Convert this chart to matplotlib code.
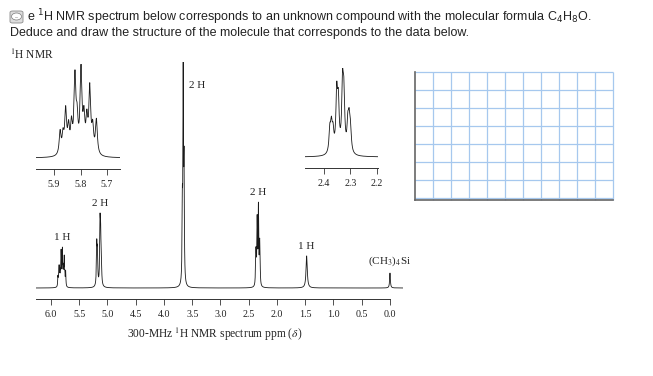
import numpy as np
import matplotlib
matplotlib.use("Agg")
import matplotlib.pyplot as plt
from matplotlib.patches import FancyBboxPatch, Ellipse

# Data
# -----------------------------------------------------------------------------
# each multiplet: line positions (ppm) and relative line intensities
vinyl_ch_ppm = [5.877, 5.866, 5.856, 5.845, 5.834, 5.821, 5.813, 5.798, 5.787, 5.776, 5.765, 5.754, 5.740]
vinyl_ch_int = [0.28, 0.22, 0.52, 0.30, 0.33, 0.90, 0.36, 1.00, 0.40, 0.38, 0.78, 0.30, 0.42]

vinyl_ch2_ppm = [5.190, 5.178, 5.132, 5.122, 5.110]
vinyl_ch2_int = [0.70, 0.55, 1.00, 0.75, 0.45]

och2_ppm = [3.675, 3.660, 3.645]
och2_int = [0.35, 1.00, 0.55]

allyl_ppm = [2.378, 2.372, 2.366, 2.352, 2.346, 2.330, 2.325, 2.310, 2.305, 2.300]
allyl_int = [0.36, 0.40, 0.30, 0.90, 0.72, 1.00, 0.80, 0.42, 0.45, 0.32]

oh_ppm = [1.475]
oh_int = [1.0]

tms_ppm = [0.0]
tms_int = [1.0]

multiplets = [
    (vinyl_ch_ppm, vinyl_ch_int),
    (vinyl_ch2_ppm, vinyl_ch2_int),
    (och2_ppm, och2_int),
    (allyl_ppm, allyl_int),
    (oh_ppm, oh_int),
    (tms_ppm, tms_int),
]
# peak heights in the full spectrum (tallest = 100)
peak_heights = [18.1, 33.2, 100.0, 38.0, 14.2, 6.6]
line_widths = [0.005, 0.007, 0.006, 0.005, 0.013, 0.008]
peak_labels = ["1 H", "2 H", "2 H", "2 H", "1 H", "(CH$_3$)$_4$Si"]

main_ticks = [6.0, 5.5, 5.0, 4.5, 4.0, 3.5, 3.0, 2.5, 2.0, 1.5, 1.0, 0.5, 0.0]
inset1_ticks = [5.9, 5.8, 5.7]
inset2_ticks = [2.4, 2.3, 2.2]

n_cols, n_rows = 11, 7

# Figure
# -----------------------------------------------------------------------------
plt.rcParams["font.family"] = ["Liberation Serif", "DejaVu Serif"]
plt.rcParams["mathtext.fontset"] = "stix"

W, H = 653, 376
fig = plt.figure(figsize=(W / 100, H / 100), dpi=100)
ink = "#1a1a1a"


def px_axes(x0, y0, x1, y1):
    """ Axes placed with pixel coordinates (top-left origin). """
    return fig.add_axes([x0 / W, 1 - y1 / H, (x1 - x0) / W, (y1 - y0) / H])


def lorentz(x, pos, inten, gamma):
    y = np.zeros_like(x)
    for p, a in zip(pos, inten):
        y += a * gamma**2 / ((x - p)**2 + gamma**2)
    return y


def style_axis(ax, ticks, bounds, size):
    for s in ["top", "left", "right"]:
        ax.spines[s].set_visible(False)
    ax.spines["bottom"].set_bounds(*bounds)
    ax.spines["bottom"].set_color("#333333")
    ax.spines["bottom"].set_linewidth(0.7)
    ax.set_yticks([])
    ax.set_xticks(ticks)
    ax.set_xticklabels(["{:.1f}".format(t) for t in ticks])
    ax.tick_params(axis="x", direction="out", length=4, width=0.6,
                   color="#333333", labelsize=size, pad=4, labelcolor="#222222")
    ax.patch.set_alpha(0)


# Main spectrum
x_lo, x_hi = -0.23, 6.265
x = np.linspace(x_lo, x_hi, 60000)
spectrum = np.zeros_like(x)
for (pos, inten), h, g in zip(multiplets, peak_heights, line_widths):
    part = lorentz(x, pos, inten, g)
    spectrum += h * part / part.max()

ax = px_axes(36, 62, 403, 299)
ax.plot(x, spectrum, color=ink, linewidth=0.6)
ax.set_xlim(x_hi, x_lo)
ax.set_ylim(-11 / 226 * 100, 100)
style_axis(ax, main_ticks, (0.0, x_hi), 7.2)
ax.set_xlabel("300-MHz $^1$H NMR spectrum ppm ($\\delta$)", fontsize=8.3, color="#222222")
ax.xaxis.set_label_coords((215 - 36) / 367, -35 / 237)
ax.xaxis.label.set_va("center")

for i, ((pos, inten), h, lab) in enumerate(zip(multiplets, peak_heights, peak_labels)):
    centre = pos[int(np.argmax(inten))]
    if i == 2:
        ax.annotate(lab, xy=(centre, h), xytext=(4, -17), textcoords="offset points",
                    ha="left", va="center", fontsize=8, color="#222222")
    else:
        ax.annotate(lab, xy=(centre, h), xytext=(0, 3.5), textcoords="offset points",
                    ha="center", va="bottom", fontsize=8, color="#222222")

# Insets
insets = [
    (multiplets[0], (36, 64, 120, 169), 158, (5.968, 5.651), inset1_ticks, 0.0042),
    (multiplets[3], (305, 68, 378, 168), 157, (2.472, 2.196), inset2_ticks, 0.0038),
]
for (pos, inten), (x0, y0, x1, y1), base, (left, right), ticks, g in insets:
    xi = np.linspace(right, left, 4000)
    yi = lorentz(xi, pos, inten, g)
    yi = yi / yi.max()
    axi = px_axes(x0, y0, x1, y1)
    axi.plot(xi, yi, color=ink, linewidth=0.6)
    axi.set_xlim(left, right)
    axi.set_ylim(-(y1 - base) / (base - y0), 1.0)
    style_axis(axi, ticks, (right, left), 7.2)

# Answer grid
axg = px_axes(414.7, 72.3, 613.3, 200)
axg.set_xlim(0, n_cols)
axg.set_ylim(-1.7 / 18, n_rows)
grid_blue = "#a6c8ee"
axg.vlines(np.arange(1, n_cols + 1), -1.7 / 18, n_rows, color=grid_blue, linewidth=0.9, clip_on=False)
axg.hlines(np.arange(0, n_rows + 1), 0, n_cols, color=grid_blue, linewidth=0.9, clip_on=False)
axg.set_xticks([])
axg.set_yticks([])
for s in ["top", "right"]:
    axg.spines[s].set_visible(False)
for s in ["left", "bottom"]:
    axg.spines[s].set_color("#666666")
    axg.spines[s].set_linewidth(1.2)

# Header text
sans = ["Liberation Sans", "DejaVu Sans"]
fig.text(27 / W, 1 - 17 / H,
         "e $^1$H NMR spectrum below corresponds to an unknown compound with the molecular formula C$_4$H$_8$O.",
         family=sans, math_fontfamily="dejavusans", fontsize=9, va="center", ha="left", color="#222222")
fig.text(10 / W, 1 - 33 / H,
         "Deduce and draw the structure of the molecule that corresponds to the data below.",
         family=sans, fontsize=9, va="center", ha="left", color="#222222")
fig.text(10 / W, 1 - 55 / H, "$^1$H NMR", fontsize=8.3, va="center", ha="left", color="#222222")

# comment icon
icon = FancyBboxPatch((10 / W, 1 - 23 / H), 13 / W, 12 / H,
                      boxstyle="round,pad=0,rounding_size=0.004", transform=fig.transFigure,
                      facecolor="#dcdcdc", edgecolor="#8a8a8a", linewidth=0.6)
fig.patches.append(icon)
bubble = Ellipse((16.5 / W, 1 - 16.5 / H), 10 / W, 7 / H, transform=fig.transFigure,
                 facecolor="white", edgecolor="#7a7a7a", linewidth=0.5)
fig.patches.append(bubble)
fig.text(16.5 / W, 1 - 16.5 / H, "...", fontsize=4, ha="center", va="center",
         family=sans, color="#555555")

plt.savefig("out.png", dpi=100)
